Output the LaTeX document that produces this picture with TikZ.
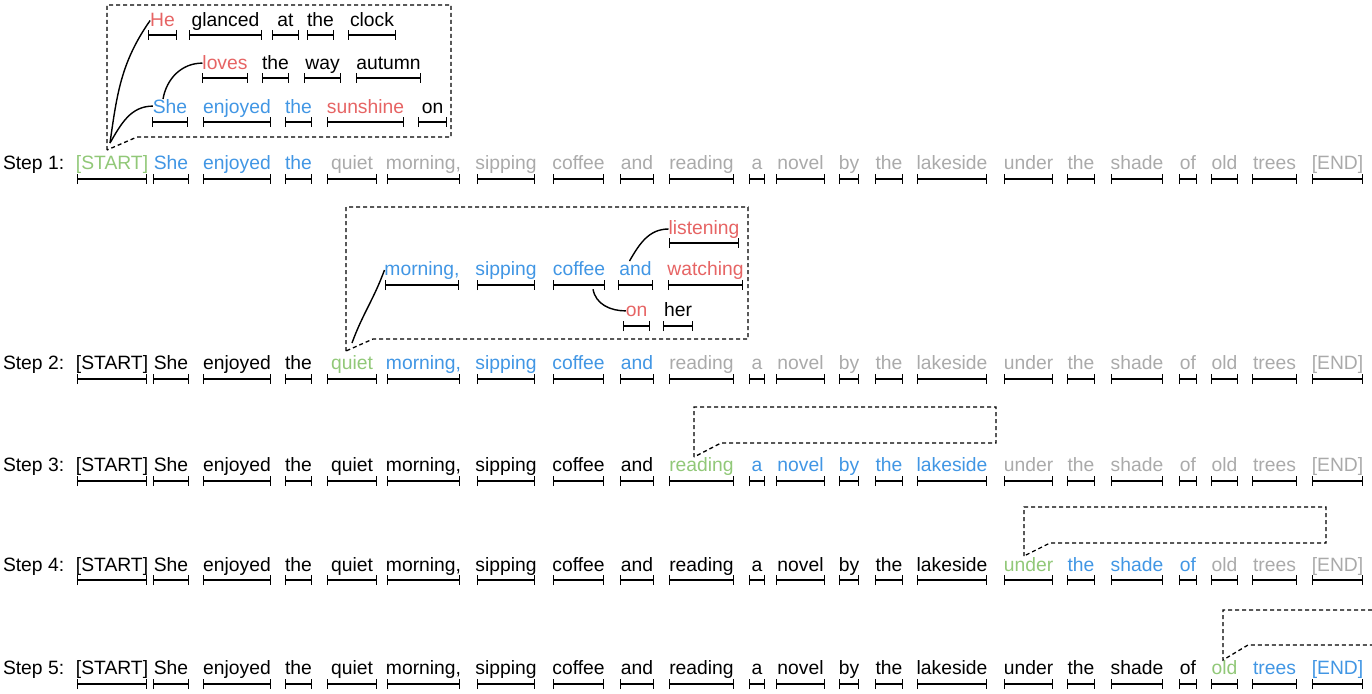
\documentclass[tikz,border=0pt]{standalone}
\usepackage{fontspec}
\setmainfont{Liberation Sans}
\usetikzlibrary{arrows.meta}
\definecolor{cred}{RGB}{230,100,100}
\definecolor{cblue}{RGB}{65,150,228}
\definecolor{cgreen}{RGB}{145,200,120}
\definecolor{cgray}{RGB}{170,170,170}
\tikzset{
  wtxt/.style={font=\fontsize{19.3}{22}\selectfont, inner sep=0pt, outer sep=0pt, anchor=base},
  brk/.style={line width=1.4pt, {Bar[width=10pt]}-{Bar[width=10pt]}},
  callout/.style={line width=1.3pt, dash pattern=on 4pt off 3pt},
  conn/.style={line width=1.4pt},
}
% name, x0, x1, baseline, bracket y, colour, text
\newcommand\Wrd[7]{%
  \node[wtxt, text=#6] (#1) at ({(#2+#3)/2},#4) {#7};
  \draw[brk] (#2,#5) -- (#3,#5);
}
% step, baseline, bracket y, green index, last blue index
\newcommand\MainRow[5]{%
  \node[wtxt, anchor=base west] (step#1) at (3,#2) {Step #1:};
  \foreach \i/\a/\b/\t in {1/77/147/{[START]},2/153/189/She,3/203/271/enjoyed,4/285/312/the,
     5/327/377/quiet,6/387/460/{morning,},7/477/535/sipping,8/553/604/coffee,9/620/654/and,
     10/669/734/reading,11/749/765/a,12/776/825/novel,13/839/859/by,14/875/903/the,
     15/917/987/lakeside,16/1004/1053/under,17/1067/1095/the,18/1111/1163/shade,
     19/1179/1197/of,20/1211/1238/old,21/1252/1297/trees,22/1312/1363/{[END]}}{%
    \ifnum\i<#4 \def\wc{black}\else\ifnum\i=#4 \def\wc{cgreen}\else\ifnum\i>#5 \def\wc{cgray}\else\def\wc{cblue}\fi\fi\fi
    \node[wtxt, text=\wc] (r#1w\i) at ({(\a+\b)/2},#2) {\t};
    \draw[brk] (\a,#3) -- (\b,#3);
  }%
}
\begin{document}
\begin{tikzpicture}[x=1pt,y=-1pt]
\useasboundingbox (0,0) rectangle (1372,693);

% main rows
\MainRow{1}{169}{179}{1}{4}
\MainRow{2}{369}{379}{5}{9}
\MainRow{3}{471}{481}{10}{15}
\MainRow{4}{571}{580}{16}{19}
\MainRow{5}{674}{684}{20}{22}

% callout 1
\draw[callout] (107,150) -- (107,5) -- (451,5) -- (451,137) -- (137,137) -- cycle;
\Wrd{c1a1}{148}{177}{27}{35}{cred}{He}
\Wrd{c1a2}{189}{262}{27}{35}{black}{glanced}
\Wrd{c1a3}{272}{299}{27}{35}{black}{at}
\Wrd{c1a4}{307}{334}{27}{35}{black}{the}
\Wrd{c1a5}{348}{396}{27}{35}{black}{clock}
\Wrd{c1b1}{202}{248}{70}{78}{cred}{loves}
\Wrd{c1b2}{262}{289}{70}{78}{black}{the}
\Wrd{c1b3}{304}{341}{70}{78}{black}{way}
\Wrd{c1b4}{356}{421}{70}{78}{black}{autumn}
\Wrd{c1c1}{152}{188}{113}{122}{cblue}{She}
\Wrd{c1c2}{203}{271}{113}{122}{cblue}{enjoyed}
\Wrd{c1c3}{285}{312}{113}{122}{cblue}{the}
\Wrd{c1c4}{327}{404}{113}{122}{cred}{sunshine}
\Wrd{c1c5}{418}{447}{113}{122}{black}{on}
\coordinate (o1) at (110,143);
\draw[conn] (o1) to[out=82,in=235] (c1a1.west);
\draw[conn] (o1) to[out=60,in=180] (c1c1.west);
\draw[conn] ([xshift=-7pt]c1c1.north) to[out=80,in=180] (c1b1.west);

% callout 2
\draw[callout] (346,351) -- (346,207) -- (748,207) -- (748,339) -- (373,339) -- cycle;
\Wrd{c2a1}{669}{739}{234}{243}{cred}{listening}
\Wrd{c2b1}{385}{459}{275}{285}{cblue}{morning,}
\Wrd{c2b2}{477}{535}{275}{285}{cblue}{sipping}
\Wrd{c2b3}{553}{605}{275}{285}{cblue}{coffee}
\Wrd{c2b4}{618}{653}{275}{285}{cblue}{and}
\Wrd{c2b5}{668}{743}{275}{285}{cred}{watching}
\Wrd{c2c1}{623}{650}{316}{326}{cred}{on}
\Wrd{c2c2}{663}{693}{316}{326}{black}{her}
\coordinate (o2) at (352,343);
\draw[conn] (o2) to[out=70,in=250] (c2b1.west);
\draw[conn] ([xshift=-6pt]c2b4.north) to[out=60,in=180] (c2a1.west);
\draw[conn] ([xshift=14pt,yshift=-14pt]c2b3.south) to[out=-80,in=180] (c2c1.west);

% callout 3
\draw[callout] (694,457) -- (694,407) -- (996,407) -- (996,443) -- (721,443) -- cycle;
% callout 4
\draw[callout] (1024,556) -- (1024,507) -- (1326,507) -- (1326,543) -- (1050,543) -- cycle;
% callout 5 (runs past the right edge)
\draw[callout] (1372,610) -- (1223,610) -- (1223,660) -- (1248,645) -- (1372,645);
\end{tikzpicture}
\end{document}
